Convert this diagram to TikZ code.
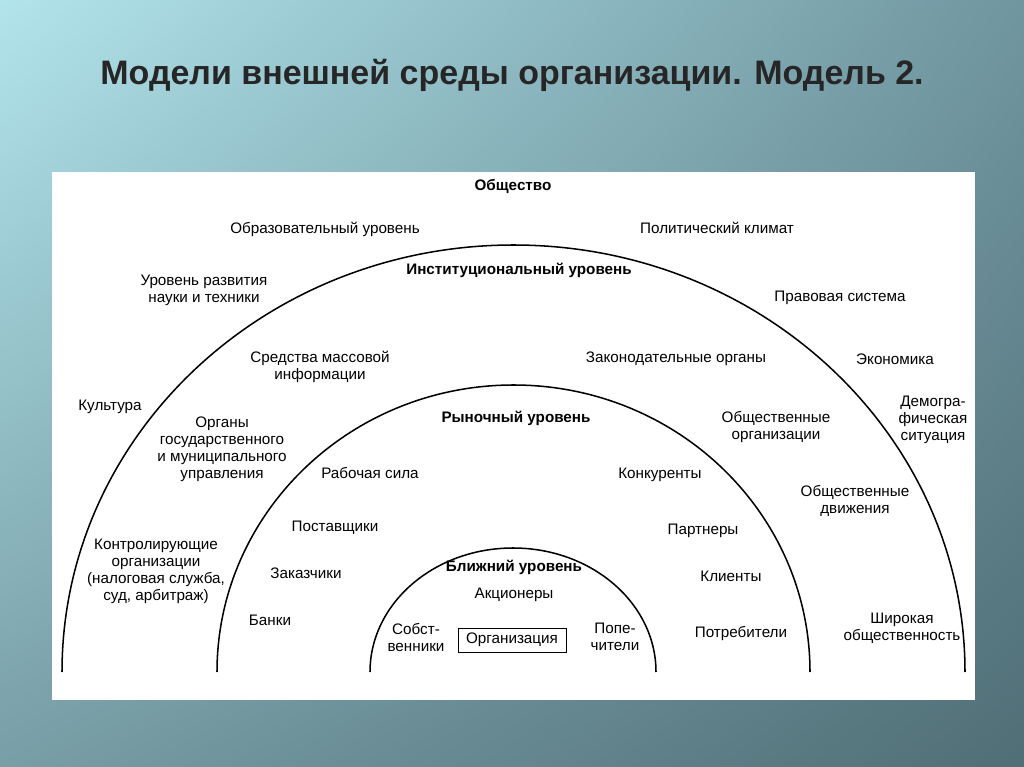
\documentclass[tikz,border=0pt]{standalone}
\usepackage{fontspec}
\setmainfont{Liberation Sans}
\usetikzlibrary{shadings}
\definecolor{bgul}{RGB}{178,228,236}
\definecolor{bgur}{RGB}{112,150,160}
\definecolor{bgll}{RGB}{120,158,166}
\definecolor{bglr}{RGB}{80,110,118}
\begin{document}
\begin{tikzpicture}[x=0.03cm,y=-0.03cm,
	lbl/.style={font=\fontsize{13}{14.5}\selectfont, align=center, inner sep=0pt},
	lvl/.style={lbl, font=\fontsize{13}{14.5}\selectfont\bfseries},
	ring/.style={black, line width=1.3pt}]
	\useasboundingbox (0,0) rectangle (1024,767);
	
	% BACKGROUND
	\shade[upper left=bgul, upper right=bgur, lower left=bgll, lower right=bglr]
	       (0,0) rectangle (1024,767);
	\node[font=\fontsize{29}{33}\selectfont\bfseries, text=black!85] (title) at (512,75) {Модели внешней среды организации. Модель 2.};
	\fill[white] (52,172) rectangle (975,700);
	
	% ARCS
	\draw[ring] (62,672) arc[start angle=180, end angle=360, x radius=451.5, y radius=427];
	\draw[ring] (217,672) arc[start angle=180, end angle=360, x radius=296.5, y radius=287];
	\draw[ring] (370,672) arc[start angle=180, end angle=360, x radius=143, y radius=124];
	
	% outer ring
	\node[lvl] (soc) at (513,186) {Общество};
	\node[lbl] (edu) at (325,229) {Образовательный уровень};
	\node[lbl] (pol) at (717,228) {Политический климат};
	\node[lbl] (sci) at (204,290) {Уровень развития\\науки и техники};
	\node[lbl] (law) at (840,298) {Правовая система};
	\node[lbl] (eco) at (895,359) {Экономика};
	\node[lbl] (cul) at (110,407) {Культура};
	\node[lbl] (dem) at (933,420) {Демогра-\\фическая\\ситуация};
	\node[lbl] (mov) at (855,501) {Общественные\\движения};
	\node[lbl] (ctl) at (156,571) {Контролирующие\\организации\\(налоговая служба,\\суд, арбитраж)};
	\node[lbl] (pub) at (902,628) {Широкая\\общественность};
	
	% institutional ring
	\node[lvl] (inst) at (519,270) {Институциональный уровень};
	\node[lbl] (med) at (320,367) {Средства массовой\\информации};
	\node[lbl] (leg) at (676,359) {Законодательные органы};
	\node[lbl] (gov) at (222,449) {Органы\\государственного\\и муниципального\\управления};
	\node[lbl] (org) at (776,427) {Общественные\\организации};
	
	% market ring
	\node[lvl] (mkt) at (516,418) {Рыночный уровень};
	\node[lbl] (lab) at (370,473) {Рабочая сила};
	\node[lbl] (cmp) at (660,475) {Конкуренты};
	\node[lbl] (sup) at (335,528) {Поставщики};
	\node[lbl] (prt) at (703,531) {Партнеры};
	\node[lbl] (cus) at (306,573) {Заказчики};
	\node[lbl] (cli) at (731,576) {Клиенты};
	\node[lbl] (bnk) at (270,620) {Банки};
	\node[lbl] (con) at (741,633) {Потребители};
	
	% near ring
	\node[lvl] (near) at (514,567) {Ближний уровень};
	\node[lbl] (sha) at (514,595) {Акционеры};
	\node[lbl] (own) at (416,637) {Собст-\\венники};
	\node[lbl] (tru) at (615,637) {Попе-\\чители};
	\node[lbl, draw, thick, minimum width=108*0.03cm, minimum height=24*0.03cm] (firm) at (512,640) {Организация};
\end{tikzpicture}
\end{document}
